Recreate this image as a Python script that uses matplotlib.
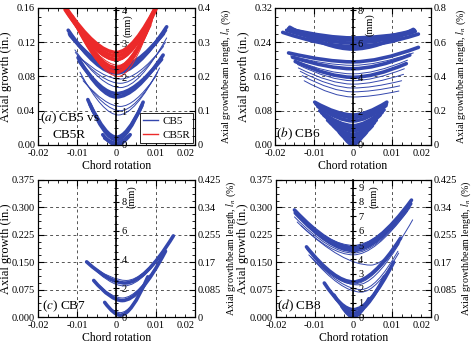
import matplotlib
matplotlib.use('Agg')
import matplotlib.pyplot as plt
from matplotlib.path import Path
from matplotlib.patches import PathPatch
from matplotlib.lines import Line2D
from matplotlib.ticker import AutoMinorLocator, MultipleLocator

plt.rcParams['font.family'] = ['Liberation Serif', 'DejaVu Serif']
plt.rcParams['mathtext.fontset'] = 'stix'
plt.rcParams['font.size'] = 8

BLUE = '#3447ad'
RED = '#ec2a2a'

# each cycle: (left tip rotation, left tip growth, bottom rotation,
#              bottom growth, right tip rotation, right tip growth)  growth in in.
cb5_cycles = [
    (-0.0035, 0.012, 0.0, 0.000, 0.0035, 0.012),
    (-0.0030, 0.008, 0.0, 0.002, 0.0030, 0.010),
    (-0.0073, 0.053, 0.0, 0.006, 0.0068, 0.050),
    (-0.0068, 0.048, 0.0, 0.009, 0.0065, 0.046),
    (-0.0093, 0.085, 0.0005, 0.035, 0.0110, 0.090),
    (-0.0090, 0.080, 0.0010, 0.040, 0.0105, 0.085),
    (-0.0085, 0.075, 0.0010, 0.045, 0.0100, 0.080),
    (-0.0098, 0.102, 0.0, 0.056, 0.0119, 0.105),
    (-0.0095, 0.098, 0.0, 0.060, 0.0115, 0.100),
    (-0.0106, 0.111, 0.0010, 0.067, 0.0128, 0.125),
    (-0.0105, 0.108, 0.0010, 0.072, 0.0125, 0.120),
    (-0.0100, 0.105, 0.0010, 0.077, 0.0120, 0.115),
    (-0.0123, 0.134, 0.0, 0.084, 0.0128, 0.138),
    (-0.0120, 0.130, 0.0, 0.087, 0.0125, 0.134),
    (-0.0118, 0.128, 0.0, 0.090, 0.0120, 0.130),
]
cb5_heavy = [1, 1, 1, 1, 0, 0, 0, 1, 1, 0, 0, 0, 1, 1, 1]

cb5r_cycles = [
    (-0.0110, 0.145, 0.0005, 0.080, 0.0090, 0.145),
    (-0.0115, 0.148, 0.0005, 0.093, 0.0095, 0.150),
    (-0.0120, 0.150, 0.0, 0.098, 0.0095, 0.152),
    (-0.0113, 0.150, 0.0, 0.085, 0.0088, 0.145),
    (-0.0110, 0.147, 0.0, 0.090, 0.0085, 0.140),
    (-0.0131, 0.158, 0.0, 0.104, 0.0105, 0.165),
    (-0.0128, 0.160, 0.0, 0.108, 0.0110, 0.170),
    (-0.0125, 0.155, 0.0, 0.100, 0.0102, 0.160),
]
cb5r_heavy = [0, 0, 0, 1, 1, 1, 1, 1]

cb6_cycles = [
    (-0.0162, 0.275, 0.0, 0.224, 0.0155, 0.270),
    (-0.0180, 0.263, 0.0, 0.230, 0.0168, 0.259),
    (-0.0170, 0.268, 0.0, 0.238, 0.0160, 0.265),
    (-0.0165, 0.272, 0.0, 0.245, 0.0158, 0.268),
    (-0.0160, 0.270, 0.0, 0.250, 0.0150, 0.262),
    (-0.0165, 0.215, 0.0, 0.194, 0.0168, 0.228),
    (-0.0160, 0.208, 0.0, 0.186, 0.0155, 0.215),
    (-0.0155, 0.205, 0.0, 0.178, 0.0146, 0.210),
    (-0.0150, 0.198, 0.0, 0.166, 0.0140, 0.198),
    (-0.0148, 0.195, 0.0, 0.158, 0.0137, 0.190),
    (-0.0142, 0.188, 0.0, 0.150, 0.0132, 0.178),
    (-0.0140, 0.180, 0.0, 0.142, 0.0130, 0.165),
    (-0.0135, 0.172, 0.0, 0.133, 0.0125, 0.150),
    (-0.0130, 0.162, 0.0, 0.124, 0.0120, 0.138),
    (-0.0125, 0.150, 0.0, 0.112, 0.0118, 0.126),
    (-0.0098, 0.100, 0.0, 0.070, 0.0087, 0.100),
    (-0.0094, 0.095, 0.0, 0.064, 0.0086, 0.096),
    (-0.0090, 0.090, 0.0, 0.056, 0.0085, 0.092),
    (-0.0085, 0.080, 0.0, 0.045, 0.0080, 0.082),
    (-0.0080, 0.075, 0.0, 0.040, 0.0075, 0.076),
    (-0.0075, 0.070, 0.0, 0.033, 0.0070, 0.070),
    (-0.0065, 0.058, 0.0, 0.025, 0.0060, 0.058),
    (-0.0058, 0.052, 0.0, 0.020, 0.0055, 0.052),
    (-0.0050, 0.045, 0.0, 0.014, 0.0050, 0.045),
    (-0.0035, 0.030, 0.0, 0.006, 0.0035, 0.030),
    (-0.0020, 0.015, 0.0, 0.000, 0.0020, 0.015),
]
cb6_heavy = [1, 1, 1, 1, 1, 1, 0, 1, 0, 1, 0, 0, 0, 0, 0,
             1, 1, 1, 1, 1, 1, 1, 1, 1, 1, 1]

cb7_cycles = [
    (-0.0076, 0.151, 0.0022, 0.093, 0.0145, 0.222),
    (-0.0073, 0.148, 0.0020, 0.085, 0.0143, 0.218),
    (-0.0070, 0.145, 0.0025, 0.100, 0.0140, 0.215),
    (-0.0058, 0.100, 0.0015, 0.045, 0.0125, 0.180),
    (-0.0055, 0.097, 0.0015, 0.052, 0.0120, 0.172),
    (-0.0030, 0.040, 0.0010, 0.005, 0.0080, 0.110),
    (-0.0028, 0.035, 0.0010, 0.012, 0.0085, 0.115),
]
cb7_heavy = [1, 0, 0, 1, 0, 1, 0]

cb8_cycles = [
    (-0.0152, 0.293, 0.0, 0.190, 0.0150, 0.320),
    (-0.0150, 0.285, 0.0, 0.182, 0.0148, 0.310),
    (-0.0152, 0.274, 0.0, 0.175, 0.0147, 0.300),
    (-0.0145, 0.260, 0.0, 0.170, 0.0140, 0.290),
    (-0.0148, 0.280, 0.0, 0.196, 0.0150, 0.315),
    (-0.0135, 0.250, 0.0045, 0.142, 0.0153, 0.266),
    (-0.0121, 0.192, 0.0, 0.096, 0.0122, 0.216),
    (-0.0120, 0.185, 0.0, 0.090, 0.0120, 0.205),
    (-0.0115, 0.170, 0.0010, 0.088, 0.0118, 0.200),
    (-0.0110, 0.165, 0.0020, 0.068, 0.0117, 0.175),
    (-0.0105, 0.160, 0.0020, 0.075, 0.0115, 0.180),
    (-0.0075, 0.093, 0.0, 0.020, 0.0104, 0.150),
    (-0.0050, 0.060, 0.0, 0.010, 0.0080, 0.110),
    (-0.0030, 0.030, 0.0, 0.000, 0.0040, 0.050),
]
cb8_heavy = [1, 1, 0, 0, 0, 0, 1, 0, 0, 0, 0, 1, 1, 1]

rot_ticks = [-0.02, -0.01, 0, 0.01, 0.02]
rot_labels = ['-0.02', '-0.01', '0', '0.01', '0.02']


def draw_cycle(ax, cycle, color, heavy):
    xl, yl, xb, yb, xr, yr = cycle
    k = 0.4
    verts = [(xl, yl), (xb + k * (xl - xb), yb), (xb, yb),
             (xb + k * (xr - xb), yb), (xr, yr)]
    codes = [Path.MOVETO, Path.CURVE3, Path.CURVE3, Path.CURVE3, Path.CURVE3]
    ax.add_patch(PathPatch(Path(verts, codes), fill=False, edgecolor=color,
                           lw=2.6 if heavy else 0.7, capstyle='round',
                           joinstyle='round', zorder=2))


def make_panel(fig, rect, in_ticks, in_labels, pct_ticks, pct_labels,
               mm_ticks, mm_minor, mm_pos, label_x, tag, tag_pos,
               tag_ha='left'):
    ax = fig.add_axes(rect)
    ax.set_xlim(-0.02, 0.02)
    ax.set_ylim(in_ticks[0], in_ticks[-1])
    ax.set_xticks(rot_ticks)
    ax.set_xticklabels(rot_labels)
    # keep the last rotation label clear of the right-hand scale
    ax.get_xticklabels()[-1].set_horizontalalignment('right')
    ax.set_yticks(in_ticks)
    ax.set_yticklabels(in_labels)
    ax.xaxis.set_minor_locator(MultipleLocator(0.0025))
    ax.yaxis.set_minor_locator(AutoMinorLocator(4))
    ax.tick_params(which='both', direction='in', top=True, right=False,
                   pad=2, labelsize=7.5)
    ax.tick_params(axis='x', pad=3)
    ax.tick_params(which='major', length=4)
    ax.tick_params(which='minor', length=2)
    ax.grid(True, which='major', ls=(0, (3, 3)), color='#555555', lw=0.7)
    ax.set_axisbelow(True)
    ax.set_xlabel('Chord rotation', labelpad=1, fontsize=8.5)
    ax.set_ylabel('Axial growth (in.)', fontsize=9)
    ax.yaxis.set_label_coords(label_x[0], 0.5)

    ax2 = ax.twinx()
    ax2.set_ylim(pct_ticks[0], pct_ticks[-1])
    ax2.set_yticks(pct_ticks)
    ax2.set_yticklabels(pct_labels)
    ax2.yaxis.set_minor_locator(AutoMinorLocator(4))
    ax2.tick_params(which='both', direction='in', pad=2, labelsize=7.5)
    ax2.tick_params(which='major', length=4)
    ax2.tick_params(which='minor', length=2)
    ax2.set_ylabel(r'Axial growth/beam length, $l_n$ (%)', fontsize=7.2)
    ax2.yaxis.set_label_coords(label_x[1], 0.5)

    # millimetre scale along the zero-rotation line
    sec = ax.secondary_yaxis(0.5, functions=(lambda y: y * 25.4,
                                             lambda m: m / 25.4))
    sec.set_yticks(mm_ticks)
    sec.set_yticklabels([str(m) for m in mm_ticks])
    sec.yaxis.set_minor_locator(AutoMinorLocator(mm_minor))
    sec.tick_params(which='both', direction='inout', pad=1, labelsize=7.5)
    sec.tick_params(which='major', length=5)
    sec.tick_params(which='minor', length=3)
    sec.spines['right'].set_linewidth(1.2)
    sec.set_zorder(3)
    ax.text(mm_pos[0], mm_pos[1], '(mm)', rotation=90, va='top', ha='left',
            transform=ax.transAxes, fontsize=7.5)

    ax.text(tag_pos[0], tag_pos[1], tag, transform=ax.transAxes,
            ha=tag_ha, va='bottom', fontsize=9.5, multialignment='center',
            linespacing=1.3)
    return ax


fig = plt.figure(figsize=(4.74, 3.46), dpi=100)

ax_a = make_panel(fig, [0.0802, 0.581, 0.331, 0.396],
                  [0, 0.04, 0.08, 0.12, 0.16],
                  ['0.00', '0.04', '0.08', '0.12', '0.16'],
                  [0, 0.1, 0.2, 0.3, 0.4], ['0', '0.1', '0.2', '0.3', '0.4'],
                  [0, 1, 2, 3, 4], 4, (0.54, 0.955), (-0.166, 1.159),
                  '($\\mathit{a}$) CB5 vs\nCB5R', (0.2, 0.03), tag_ha='center')
for cyc, hv in zip(cb5_cycles, cb5_heavy):
    draw_cycle(ax_a, cyc, BLUE, hv)
for cyc, hv in zip(cb5r_cycles, cb5r_heavy):
    draw_cycle(ax_a, cyc, RED, hv)
leg = ax_a.legend(handles=[Line2D([], [], color=BLUE, lw=1.0),
                           Line2D([], [], color=RED, lw=1.0)],
                  labels=['CB5', 'CB5R'], loc='lower right',
                  fancybox=False, framealpha=1, edgecolor='black',
                  borderaxespad=0.15, handlelength=1.3, handletextpad=0.4,
                  borderpad=0.3, labelspacing=0.35, fontsize=8)
leg.get_frame().set_linewidth(0.6)
leg.set_zorder(4)

ax_b = make_panel(fig, [0.580, 0.581, 0.329, 0.396],
                  [0, 0.08, 0.16, 0.24, 0.32],
                  ['0.00', '0.08', '0.16', '0.24', '0.32'],
                  [0, 0.2, 0.4, 0.6, 0.8], ['0', '0.2', '0.4', '0.6', '0.8'],
                  [0, 2, 4, 6, 8], 4, (0.58, 0.965), (-0.16, 1.154),
                  '($\\mathit{b}$) CB6', (0.01, 0.02))
for cyc, hv in zip(cb6_cycles, cb6_heavy):
    draw_cycle(ax_b, cyc, BLUE, hv)

big_in = [0, 0.075, 0.15, 0.225, 0.3, 0.375]
big_in_labels = ['0.000', '0.075', '0.150', '0.225', '0.300', '0.375']
big_pct = [0, 0.085, 0.17, 0.255, 0.34, 0.425]
big_pct_labels = ['0', '0.085', '0.17', '0.255', '0.34', '0.425']

ax_c = make_panel(fig, [0.0802, 0.0838, 0.331, 0.396],
                  big_in, big_in_labels, big_pct, big_pct_labels,
                  [0, 2, 4, 6, 8], 4, (0.567, 0.965), (-0.166, 1.19),
                  '($\\mathit{c}$) CB7', (0.025, 0.02))
for cyc, hv in zip(cb7_cycles, cb7_heavy):
    draw_cycle(ax_c, cyc, BLUE, hv)

ax_d = make_panel(fig, [0.582, 0.0838, 0.327, 0.396],
                  big_in, big_in_labels, big_pct, big_pct_labels,
                  [0, 1, 2, 3, 4, 5, 6, 7, 8, 9], 2, (0.6, 0.965),
                  (-0.174, 1.187),
                  '($\\mathit{d}$) CB8', (0.01, 0.02))
for cyc, hv in zip(cb8_cycles, cb8_heavy):
    draw_cycle(ax_d, cyc, BLUE, hv)

fig.savefig('out.png', dpi=100)
